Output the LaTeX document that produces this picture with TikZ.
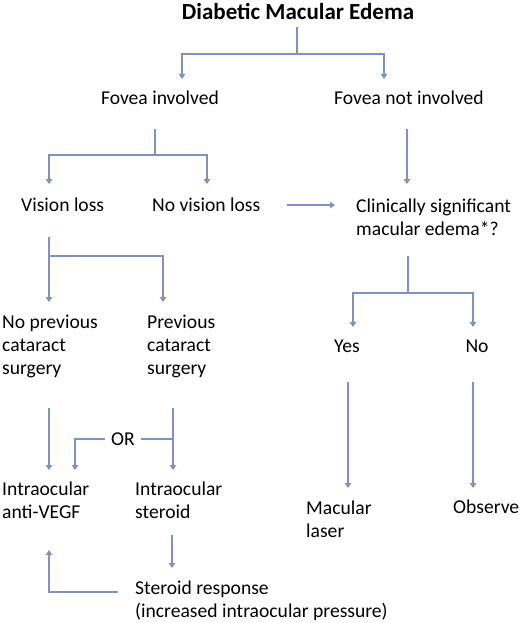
\documentclass[tikz,border=0pt]{standalone}
\usepackage{fontspec}
\setmainfont{Carlito}
\usetikzlibrary{arrows.meta}
\definecolor{lc}{RGB}{125,146,190}
\begin{document}
\begin{tikzpicture}[x=1pt,y=-1pt,
  line/.style={draw=lc,line width=1.6pt},
  arr/.style={line,-{Triangle[length=5pt,width=6.5pt]}},
  txt/.style={inner sep=0pt,font=\fontsize{19.6}{23}\selectfont,align=left},
  lt/.style={txt,anchor=west}]
\useasboundingbox (0,0) rectangle (520,623);
% nodes
\node[txt,font=\fontsize{23}{27}\selectfont\bfseries] (title) at (298,11) {Diabetic Macular Edema};
\node[txt] (fovea) at (160,98) {Fovea involved};
\node[txt] (fnot) at (409,98) {Fovea not involved};
\node[lt] (vloss) at (21,205) {Vision loss};
\node[lt] (novloss) at (152,205) {No vision loss};
\node[lt] (csme) at (356,217) {Clinically significant\\macular edema*?};
\node[lt] (noprev) at (2,346) {No previous\\cataract\\surgery};
\node[lt] (prev) at (147,346) {Previous\\cataract\\surgery};
\node[txt] (yes) at (347,346) {Yes};
\node[txt] (no) at (477,346) {No};
\node[txt] (or) at (123,439) {OR};
\node[lt] (antivegf) at (2,500) {Intraocular\\anti-VEGF};
\node[lt] (steroid) at (135,500) {Intraocular\\steroid};
\node[lt] (laser) at (306,519) {Macular\\laser};
\node[lt] (observe) at (453,507) {Observe};
\node[lt] (sresp) at (135,601) {Steroid response\\(increased intraocular pressure)};
% junction and end coordinates
\coordinate (t0) at (297,27);
\coordinate (t1) at (297,54);
\coordinate (fa) at (182,79);
\coordinate (fb) at (384,79);
\coordinate (f0) at (155,129);
\coordinate (f1) at (155,155);
\coordinate (va) at (49,184);
\coordinate (vb) at (207,184);
\coordinate (n0) at (407,129);
\coordinate (n1) at (407,184);
\coordinate (h0) at (287,205);
\coordinate (h1) at (335,205);
\coordinate (v0) at (49,237);
\coordinate (v1) at (49,256);
\coordinate (pa) at (49,302);
\coordinate (pb) at (163,302);
\coordinate (c0) at (408,256);
\coordinate (c1) at (408,293);
\coordinate (ya) at (353,327);
\coordinate (yb) at (473,327);
\coordinate (l0) at (49,408);
\coordinate (l1) at (49,470);
\coordinate (r0) at (173,408);
\coordinate (r1) at (173,470);
\coordinate (o0) at (173,439);
\coordinate (o2) at (75,470);
\coordinate (y0) at (348,382);
\coordinate (y1) at (348,488);
\coordinate (x0) at (473,382);
\coordinate (x1) at (473,488);
\coordinate (s0) at (172,535);
\coordinate (s1) at (172,568);
\coordinate (b0) at (118,592);
\coordinate (b1) at (49,550);
% connectors
\draw[line] (t0) -- (t1);
\draw[arr] (t1) -| (fa);
\draw[arr] (t1) -| (fb);
\draw[line] (f0) -- (f1);
\draw[arr] (f1) -| (va);
\draw[arr] (f1) -| (vb);
\draw[arr] (n0) -- (n1);
\draw[arr] (h0) -- (h1);
\draw[line] (v0) -- (v1);
\draw[arr] (v1) -| (pa);
\draw[arr] (v1) -| (pb);
\draw[line] (c0) -- (c1);
\draw[arr] (c1) -| (ya);
\draw[arr] (c1) -| (yb);
\draw[arr] (l0) -- (l1);
\draw[arr] (r0) -- (r1);
\draw[line] (o0) -- ([xshift=6pt]or.east);
\draw[arr] ([xshift=-6pt]or.west) -| (o2);
\draw[arr] (y0) -- (y1);
\draw[arr] (x0) -- (x1);
\draw[arr] (s0) -- (s1);
\draw[arr] (b0) -| (b1);
\end{tikzpicture}
\end{document}
